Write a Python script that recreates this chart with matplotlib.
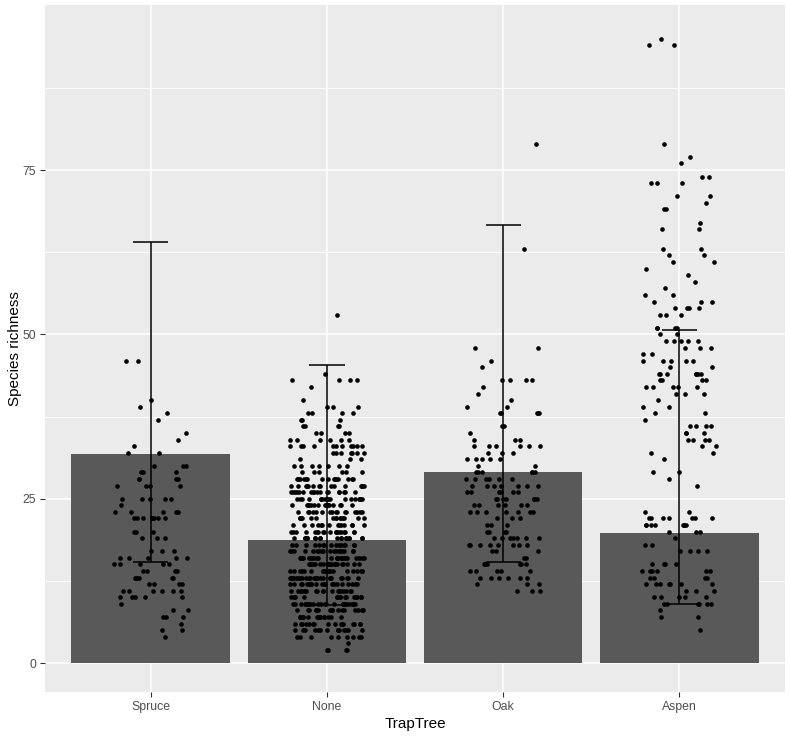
import numpy as np
import matplotlib.pyplot as plt

plt.rcParams['font.family'] = ['Liberation Sans', 'DejaVu Sans']

# categories and summary values
trap_trees = ['Spruce', 'None', 'Oak', 'Aspen']
bar_height = [31.8, 18.7, 29.1, 19.8]
err_low = [15.4, 8.8, 15.3, 9.0]
err_high = [64.0, 45.3, 66.7, 50.6]

# species richness observations: value and how many points sit at that value
spruce_vals = [46, 40, 39, 38, 37, 35, 34, 33, 32, 30, 29, 28, 27, 25, 24, 23, 22,
               20, 19, 17, 16, 15, 14, 13, 12, 11, 10, 9, 8, 7, 6, 5, 4]
spruce_counts = [2, 1, 1, 1, 1, 1, 1, 1, 2, 3, 3, 4, 4, 5, 1, 5, 8,
                 3, 3, 3, 5, 5, 4, 6, 4, 6, 5, 1, 2, 3, 1, 2, 1]

none_vals = [53, 44, 43, 42, 40, 39, 38, 37, 36, 35, 34, 33, 32, 31, 30, 29, 28,
             27, 26, 25, 24, 23, 22, 21, 20, 19, 18, 17, 16, 15, 14, 13, 12, 11,
             10, 9, 8, 7, 6, 5, 4, 3, 2]
none_counts = [1, 1, 4, 1, 1, 3, 4, 3, 4, 4, 6, 11, 7, 3, 7, 6, 16,
               16, 18, 19, 16, 16, 15, 14, 19, 18, 15, 18, 24, 20, 19, 24, 21, 19,
               16, 24, 16, 14, 16, 14, 9, 1, 4]

oak_vals = [79, 63, 48, 46, 45, 43, 42, 41, 40, 39, 38, 36, 35, 34, 33, 32, 31,
            30, 29, 28, 27, 26, 25, 24, 23, 22, 21, 20, 19, 18, 17, 16, 15, 14,
            13, 12, 11]
oak_counts = [1, 1, 2, 1, 1, 4, 1, 1, 1, 2, 5, 2, 1, 3, 6, 3, 5,
              2, 6, 6, 7, 6, 8, 6, 7, 3, 3, 4, 7, 8, 3, 2, 7, 5,
              6, 3, 3]

aspen_vals = [95, 94, 79, 77, 76, 74, 73, 71, 70, 69, 67, 66, 63, 62, 61, 60, 59,
              58, 57, 56, 55, 54, 53, 51, 50, 49, 48, 47, 46, 45, 44, 43, 42, 41,
              40, 39, 38, 37, 36, 35, 34, 33, 32, 31, 29, 28, 27, 23, 22, 21, 20,
              19, 18, 17, 15, 14, 13, 12, 11, 10, 9, 8, 7, 5]
aspen_counts = [1, 2, 1, 1, 1, 2, 3, 2, 1, 2, 1, 2, 2, 2, 2, 1, 1,
                1, 1, 2, 3, 4, 3, 4, 2, 5, 3, 2, 5, 2, 7, 4, 5, 3,
                1, 2, 2, 1, 4, 3, 4, 2, 2, 1, 2, 1, 1, 2, 7, 8, 3,
                1, 2, 4, 4, 6, 4, 7, 3, 5, 6, 1, 2, 1]

points = [
    np.repeat(spruce_vals, spruce_counts),
    np.repeat(none_vals, none_counts),
    np.repeat(oak_vals, oak_counts),
    np.repeat(aspen_vals, aspen_counts),
]

fig = plt.figure(figsize=(7.9, 7.39), dpi=100)
ax = fig.add_axes([0.057, 0.0636, 0.9367, 0.9296])
ax.set_facecolor('#EBEBEB')

xpos = np.arange(len(trap_trees))
ax.bar(xpos, bar_height, width=0.9, color='#595959', zorder=2)

# deterministic horizontal spread (quadratic Weyl sequence) instead of random jitter
for i, ys in enumerate(points):
    k = np.arange(len(ys)) + 1.0
    offs = ((k * k * 0.7548776662 + k * 0.5698402910 + 0.31 * i) % 1.0 - 0.5) * 0.42
    ax.scatter(xpos[i] + offs, ys, s=11, color='black', linewidths=0, zorder=3)

ax.vlines(xpos, err_low, err_high, color='black', lw=1.1, zorder=4)
ax.hlines(err_low, xpos - 0.1, xpos + 0.1, color='black', lw=1.1, zorder=4)
ax.hlines(err_high, xpos - 0.1, xpos + 0.1, color='black', lw=1.1, zorder=4)

ax.set_xlim(-0.6, 3.6)
ax.set_ylim(-4.4, 100.1)
ax.set_xticks(xpos)
ax.set_xticklabels(trap_trees)
ax.set_yticks([0, 25, 50, 75])
ax.set_yticks([12.5, 37.5, 62.5, 87.5], minor=True)

ax.grid(True, which='major', color='white', lw=1.1, zorder=0)
ax.grid(True, which='minor', axis='y', color='white', lw=0.55, zorder=0)
ax.set_axisbelow(True)
for sp in ax.spines.values():
    sp.set_visible(False)

ax.tick_params(which='major', length=3.5, width=0.8, color='#333333',
               labelcolor='#4D4D4D', labelsize=8.8, pad=3)
ax.tick_params(which='minor', length=0)

ax.set_xlabel('TrapTree', fontsize=11, color='black', labelpad=3)
ax.set_ylabel('Species richness', fontsize=11, color='black')
ax.yaxis.set_label_coords(-0.031, 0.5)

fig.savefig('out.png', dpi=100)
